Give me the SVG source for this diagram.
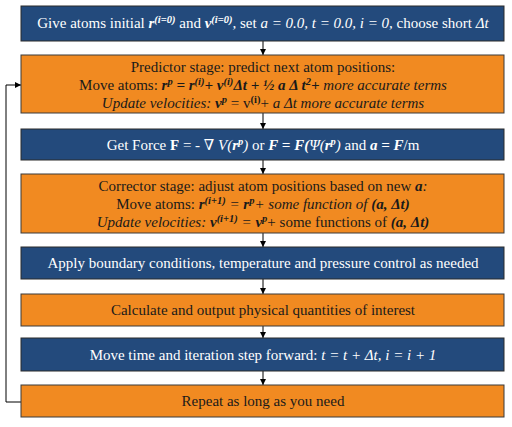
<svg xmlns="http://www.w3.org/2000/svg" width="512" height="427" viewBox="0 0 512 427">
<defs>
<marker id="ah" viewBox="0 0 10 10" refX="10" refY="5" markerWidth="6" markerHeight="6" markerUnits="userSpaceOnUse" orient="auto">
<path d="M0,0 L10,5 L0,10 z" fill="#000"/>
</marker>
<style>
.blue{fill:#234a7c;stroke:#2b2b2b;stroke-width:1}
.orange{fill:#f18a21;stroke:#3a3a3a;stroke-width:1}
text{font-family:"Liberation Serif","DejaVu Serif",serif;font-size:15px;text-anchor:middle}
.w{fill:#fff}
.k{fill:#1a1a1a}
.bi{font-weight:bold;font-style:italic}
.i{font-style:italic}
.b{font-weight:bold}
.sup{font-size:10.5px}
.con{stroke:#000;stroke-width:1;fill:none}
</style>
</defs>
<rect width="512" height="427" fill="#fff"/>
<g id="connectors">
<line class="con" x1="263" y1="41" x2="263" y2="55" marker-end="url(#ah)"/>
<line class="con" x1="263" y1="113" x2="263" y2="129" marker-end="url(#ah)"/>
<line class="con" x1="263" y1="160" x2="263" y2="174" marker-end="url(#ah)"/>
<line class="con" x1="263" y1="233" x2="263" y2="247" marker-end="url(#ah)"/>
<line class="con" x1="263" y1="279" x2="263" y2="294" marker-end="url(#ah)"/>
<line class="con" x1="263" y1="326" x2="263" y2="338" marker-end="url(#ah)"/>
<line class="con" x1="263" y1="371" x2="263" y2="385" marker-end="url(#ah)"/>
<polyline class="con" points="21,402 6,402 6,85 21,85" marker-end="url(#ah)"/>
</g>
<g id="n1">
<rect class="blue" x="21" y="6" width="483" height="35"/>
<text class="w" x="263" y="28">Give atoms initial <tspan class="bi">r</tspan><tspan class="bi sup" dy="-5">(i=0)</tspan><tspan dy="5"> and </tspan><tspan class="bi">v</tspan><tspan class="bi sup" dy="-5">(i=0)</tspan><tspan class="i" dy="5">, </tspan>set <tspan class="i">a = 0.0, t = 0.0, i = 0,</tspan> choose short <tspan class="i">Δt</tspan></text>
</g>
<g id="n2">
<rect class="orange" x="21" y="55" width="483" height="58"/>
<text class="k" x="263" y="72">Predictor stage: predict next atom positions:</text>
<text class="k" x="263" y="90">Move atoms: <tspan class="bi">r</tspan><tspan class="bi sup" dy="-5">p</tspan><tspan class="bi" dy="5"> = r</tspan><tspan class="bi sup" dy="-5">(i)</tspan><tspan class="bi" dy="5">+ v</tspan><tspan class="bi sup" dy="-5">(i)</tspan><tspan class="bi" dy="5">Δt + ½ a Δ t</tspan><tspan class="bi sup" dy="-5">2</tspan><tspan class="bi" dy="5">+</tspan><tspan class="i"> more accurate terms</tspan></text>
<text class="k" x="263" y="108"><tspan class="i">Update velocities: </tspan><tspan class="bi">v</tspan><tspan class="bi sup" dy="-5">p</tspan><tspan dy="5"> = v</tspan><tspan class="b sup" dy="-5">(i)</tspan><tspan dy="5">+ </tspan><tspan class="i">a Δt more accurate terms</tspan></text>
</g>
<g id="n3">
<rect class="blue" x="21" y="129" width="483" height="31"/>
<text class="w" x="263" y="150">Get Force <tspan class="b">F</tspan> = - ∇ <tspan class="i">V(</tspan><tspan class="bi">r</tspan><tspan class="bi sup" dy="-5">p</tspan><tspan class="i" dy="5">)</tspan> or <tspan class="bi">F = F(</tspan><tspan class="i">Ψ(</tspan><tspan class="bi">r</tspan><tspan class="bi sup" dy="-5">p</tspan><tspan class="i" dy="5">)</tspan> and <tspan class="bi">a = F</tspan>/m</text>
</g>
<g id="n4">
<rect class="orange" x="21" y="174" width="483" height="59"/>
<text class="k" x="263" y="191">Corrector stage: adjust atom positions based on new <tspan class="bi">a</tspan><tspan class="i">:</tspan></text>
<text class="k" x="263" y="209">Move atoms: <tspan class="bi">r</tspan><tspan class="bi sup" dy="-5">(i+1)</tspan><tspan class="i" dy="5"> = </tspan><tspan class="bi">r</tspan><tspan class="bi sup" dy="-5">p</tspan><tspan class="i" dy="5">+ some function of </tspan><tspan class="bi">(a, Δt)</tspan></text>
<text class="k" x="263" y="227"><tspan class="i">Update velocities: </tspan><tspan class="bi">v</tspan><tspan class="bi sup" dy="-5">(i+1)</tspan><tspan class="i" dy="5"> = </tspan><tspan class="bi">v</tspan><tspan class="bi sup" dy="-5">p</tspan><tspan dy="5">+  some functions of </tspan><tspan class="bi">(a, Δt)</tspan></text>
</g>
<g id="n5">
<rect class="blue" x="21" y="247" width="483" height="32"/>
<text class="w" x="263" y="268">Apply boundary conditions, temperature and pressure control as needed</text>
</g>
<g id="n6">
<rect class="orange" x="21" y="294" width="483" height="32"/>
<text class="k" x="263" y="315">Calculate and output physical quantities of interest</text>
</g>
<g id="n7">
<rect class="blue" x="21" y="338" width="483" height="33"/>
<text class="w" x="263" y="360">Move time and iteration step forward: <tspan class="i">t = t + Δt, i = i + 1</tspan></text>
</g>
<g id="n8">
<rect class="orange" x="21" y="385" width="483" height="32"/>
<text class="k" x="263" y="406">Repeat as long as you need</text>
</g>
</svg>
